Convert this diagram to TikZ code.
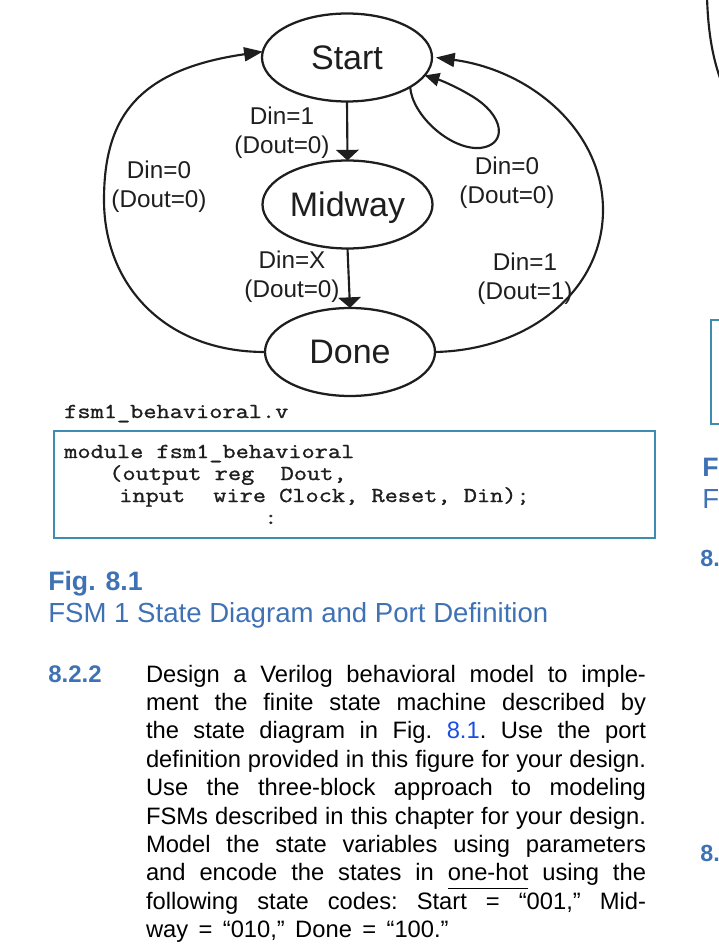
\documentclass[tikz,border=0pt]{standalone}
\usepackage{fontspec}
\usetikzlibrary{arrows.meta,shapes.geometric}
\setmainfont{Liberation Sans}
\newfontfamily\codef[FakeStretch=1.2,FakeBold=1.2]{Latin Modern Mono}
\definecolor{ink}{HTML}{1E1E1E}
\definecolor{headblue}{HTML}{3F72B5}
\definecolor{linkblue}{HTML}{1A4FE0}
\definecolor{boxblue}{HTML}{3D8DB3}
\newcommand{\jline}[1]{\hbox to 375pt{#1}}
\tikzset{
  x=0.75pt,y=-0.75pt,
  state/.style={draw=ink,line width=1.7pt,ellipse,inner sep=0pt,outer sep=0pt,minimum width=127.5pt,minimum height=66pt,text depth=0pt,font=\fontsize{25.5}{30}\selectfont,text=ink},
  lab/.style={align=center,inner sep=0pt,text=ink,font=\fontsize{18.2}{21.75}\selectfont},
  code/.style={anchor=base west,inner sep=0pt,text=ink,font=\codef\fontsize{16}{20}\selectfont},
  head/.style={anchor=base west,inner sep=0pt,text=headblue},
  arc/.style={draw=ink,line width=1.6pt},
  flatarrow/.style={arc,-{Triangle[length=8pt,width=17pt]}},
  longarrow/.style={arc,-{Triangle[length=14pt,width=10.5pt]}},
  loopline/.style={arc,-{Triangle[length=11pt,width=10pt]}},
  portbox/.style={draw=boxblue,line width=1.8pt}
}
\begin{document}
\begin{tikzpicture}
\useasboundingbox (0,0) rectangle (718,948);
\node[state] (start) at (347,57.5) {Start};
\node[state] (midway) at (347.5,204.5) {Midway};
\node[state] (done) at (350,352) {Done};
\draw[flatarrow] (start.south) -- (midway.north);
\draw[flatarrow] (midway.south) -- (done.north);
\draw[longarrow] (done.west) .. controls (165,352) and (104,285) .. (104,200) .. controls (104,120) and (135,70) .. (start.176);
\draw[longarrow] (done.east) .. controls (530,350) and (603,290) .. (603,210) .. controls (603,130) and (530,70) .. ([xshift=3pt]start.east);
\draw[loopline] (start.-25.5) .. controls (412,115) and (450,150) .. (480,148) .. controls (508,145) and (505,115) .. (470,95) .. controls (455,86) and (440,80) .. (start.-13);
\node[lab] (l1) at (282,133) {Din=1\\(Dout=0)};
\node[lab] (l2) at (159,187) {Din=0\\(Dout=0)};
\node[lab] (l3) at (507,183) {Din=0\\(Dout=0)};
\node[lab] (l4) at (292,277) {Din=X\\(Dout=0)};
\node[lab] (l5) at (525,279) {Din=1\\(Dout=1)};
\node[code] (fname) at (64,418) {fsm1\_behavioral.v};
\node[portbox,draw,inner sep=0pt,outer sep=0pt,minimum width=450.75pt,minimum height=80.25pt] (box) at (354.5,484.5) {};
\node[code] (c1) at (64,458) {module fsm1\_behavioral};
\node[code] (c2) at (109,480) {(output reg~~Dout,};
\node[code] (c3) at (119,502) {input};
\node[code] (c4) at (213,502) {wire Clock, Reset, Din);};
\node[code] (c5) at (264,524) {:};
\node[head,font=\bfseries\fontsize{20}{24}\selectfont] (figa) at (48,590) {Fig. 8.1};
\node[head,font=\fontsize{20.7}{24}\selectfont] (figb) at (48,622) {FSM 1 State Diagram and Port Definition};
\node[head,font=\bfseries\fontsize{18}{21}\selectfont] (num) at (48,682) {8.2.2};
\node[anchor=base west,inner sep=0pt,outer sep=0pt,text=black] (body) at (146,682) {\parbox[t]{375pt}{\fontsize{17.8}{21.3}\selectfont\frenchspacing\spaceskip=0.18em plus 1fil\relax
\jline{Design a Verilog behavioral model to imple-}
\jline{ment the finite state machine described by}
\jline{the state diagram in Fig. \textcolor{linkblue}{8.1}. Use the port}
\jline{definition provided in this figure for your design.}
\jline{Use the three-block approach to modeling}
\jline{FSMs described in this chapter for your design.}
\jline{Model the state variables using parameters}
\jline{and encode the states in \underline{\rule[-4pt]{0pt}{1pt}one-hot} using the}
\jline{following state codes: Start = “001,” Mid-}
\hbox to 227pt{way = “010,” Done = “100.”}}};
\coordinate (ra) at (707,-3);
\coordinate (rb) at (720,78);
\draw[arc] (ra) .. controls (708,30) and (712,55) .. (rb);
\coordinate (p1) at (720,320);
\coordinate (p2) at (711,320);
\coordinate (p3) at (711,424);
\coordinate (p4) at (720,424);
\draw[portbox] (p1) -- (p2) -- (p3) -- (p4);
\node[head,font=\bfseries\fontsize{20}{24}\selectfont] (fa) at (702,476) {F};
\node[head,font=\fontsize{20.7}{24}\selectfont] (fb) at (702,508) {F};
\node[head,font=\bfseries\fontsize{17.5}{21}\selectfont] (na) at (700,566) {8.};
\node[head,font=\bfseries\fontsize{17.5}{21}\selectfont] (nb) at (700,861) {8.};
\end{tikzpicture}
\end{document}
